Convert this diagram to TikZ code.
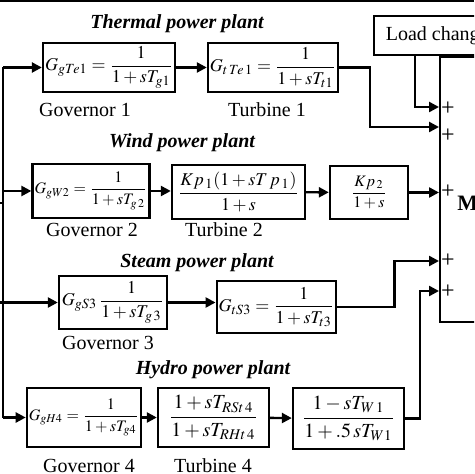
\documentclass[tikz,border=0pt]{standalone}
\usepackage{amsmath}
\usepackage{mathptmx}
\usepackage{fontspec}
\setmainfont{Liberation Serif}
\usetikzlibrary{arrows.meta,positioning}

\begin{document}
\begin{tikzpicture}[x=0.5pt,y=-0.5pt]
  \tikzstyle{blk}=[draw,line width=1.2pt,inner sep=1pt,font=\fontsize{9}{10}\selectfont]
  \tikzstyle{arr}=[-{Triangle[length=5pt,width=5pt]},line width=1.2pt]
  \tikzstyle{ttl}=[font=\bfseries\itshape]
  \tikzstyle{lbl}=[font=\normalsize]
  \useasboundingbox (0,0) rectangle (474,474);
  \clip (0,0) rectangle (474,474);

  \draw[line width=1.2pt] (0,1) -- (474,1);

  % thermal
  \node[ttl] (tthermal) at (177,24) {Thermal power plant};
  \node[blk,minimum width=64pt,minimum height=24.5pt] (gov1) at (109,67.5) {$G_{gTe1}=\dfrac{1}{1+sT_{g1}}$};
  \node[blk,minimum width=64pt,minimum height=24.5pt] (turb1) at (273,67.5) {$G_{t\,Te\,1}=\dfrac{1}{1+sT_{t1}}$};
  \node[lbl] (lgov1) at (85,110) {Governor 1};
  \node[lbl] (lturb1) at (267,110) {Turbine 1};

  % wind
  \node[ttl] (twind) at (182,143) {Wind power plant};
  \node[blk,minimum width=52pt,minimum height=27pt,font=\fontsize{8}{9}\selectfont] (gov2) at (91,191) {$G_{gW2}=\dfrac{1}{1+sT_{g\,2}}$};
  \node[blk,minimum width=66.5pt,minimum height=27pt] (turb2) at (238.5,192) {$\dfrac{Kp_{\,1}(1+sT\,p_{\,1})}{1+s}$};
  \node[blk,minimum width=39pt,minimum height=26.5pt,font=\fontsize{8}{9}\selectfont] (wind3) at (369,192.5) {$\dfrac{Kp_{\,2}}{1+s}$};
  \node[lbl] (lgov2) at (92,230) {Governor 2};
  \node[lbl] (lturb2) at (224,230) {Turbine 2};

  % steam
  \node[ttl] (tsteam) at (197,263) {Steam power plant};
  \node[blk,minimum width=54pt,minimum height=26.5pt] (gov3) at (113,302.5) {$G_{gS3}\,\dfrac{1}{1+sT_{g\,3}}$};
  \node[blk,minimum width=58.5pt,minimum height=26pt] (turb3) at (276.5,307) {$G_{tS3}=\dfrac{1}{1+sT_{t3}}$};
  \node[lbl] (lgov3) at (108,343) {Governor 3};

  % hydro
  \node[ttl] (thydro) at (213,370) {Hydro power plant};
  \node[blk,minimum width=52pt,minimum height=29.5pt,font=\fontsize{8}{9}\selectfont] (gov4) at (84,417.5) {$G_{gH4}=\dfrac{1}{1+sT_{g4}}$};
  \node[blk,minimum width=55.5pt,minimum height=29.5pt,font=\fontsize{10}{11}\selectfont] (turb4) at (213.5,417.5) {$\dfrac{1+sT_{RSt\,4}}{1+sT_{RHt\,4}}$};
  \node[blk,minimum width=55.5pt,minimum height=30.5pt,font=\fontsize{10}{11}\selectfont] (hyd3) at (348.5,418.5) {$\dfrac{1-sT_{W\,1}}{1+.5\,sT_{W1}}$};
  \node[lbl] (lgov4) at (89,466) {Governor 4};
  \node[lbl] (lturb4) at (213,466) {Turbine 4};

  % load and summing block
  \node[blk,anchor=north west,minimum width=63pt,minimum height=19.5pt,font=\normalsize] (load) at (373,15) {Load change};
  \node[blk,anchor=north west,minimum width=50pt,minimum height=132.5pt] (sum) at (439,56) {};
  \node[font=\fontsize{11}{12}\selectfont\bfseries,anchor=west,inner sep=0pt] (msum) at (457,203) {M};
  \foreach \y [count=\i] in {109,136,192,261,292}
    \node[font=\fontsize{12}{13}\selectfont,inner sep=0pt] (p\i) at (448,\y) {+};
  \coordinate (s1) at (439,107);
  \coordinate (s2) at (439,127);
  \coordinate (s4) at (439,261);
  \coordinate (s5) at (439,291);

  % input bus
  \coordinate (bus) at (3,0);
  \draw[line width=1.2pt] (bus |- gov1.west) -- (bus |- gov4.west);
  \draw[line width=1.2pt] (0,203) -- (bus |- 0,203);
  \draw[arr] (bus |- gov1.west) -- (gov1.west);
  \draw[arr] (bus |- gov2.west) -- (gov2.west);
  \draw[arr] (0,0 |- gov3.west) -- (gov3.west);
  \draw[arr] (bus |- gov4.west) -- (gov4.west);

  \draw[arr] (gov1) -- (turb1);
  \draw[arr] (gov2.east) -- (gov2.east -| turb2.west);
  \draw[arr] (turb2) -- (wind3);
  \draw[arr] (gov3.east) -- (gov3.east -| turb3.west);
  \draw[arr] (gov4) -- (turb4);
  \draw[arr] (turb4) -- (hyd3);

  \draw[arr] (load.south -| 415,0) |- (s1);
  \draw[arr] (turb1.east) -- ++(31,0) |- (s2);
  \draw[arr] (wind3.east) -- (wind3.east -| sum.west);
  \draw[arr] (turb3.east) -- ++(57,0) |- (s4);
  \draw[arr] (hyd3.east) -- ++(15,0) |- (s5);
\end{tikzpicture}
\end{document}
